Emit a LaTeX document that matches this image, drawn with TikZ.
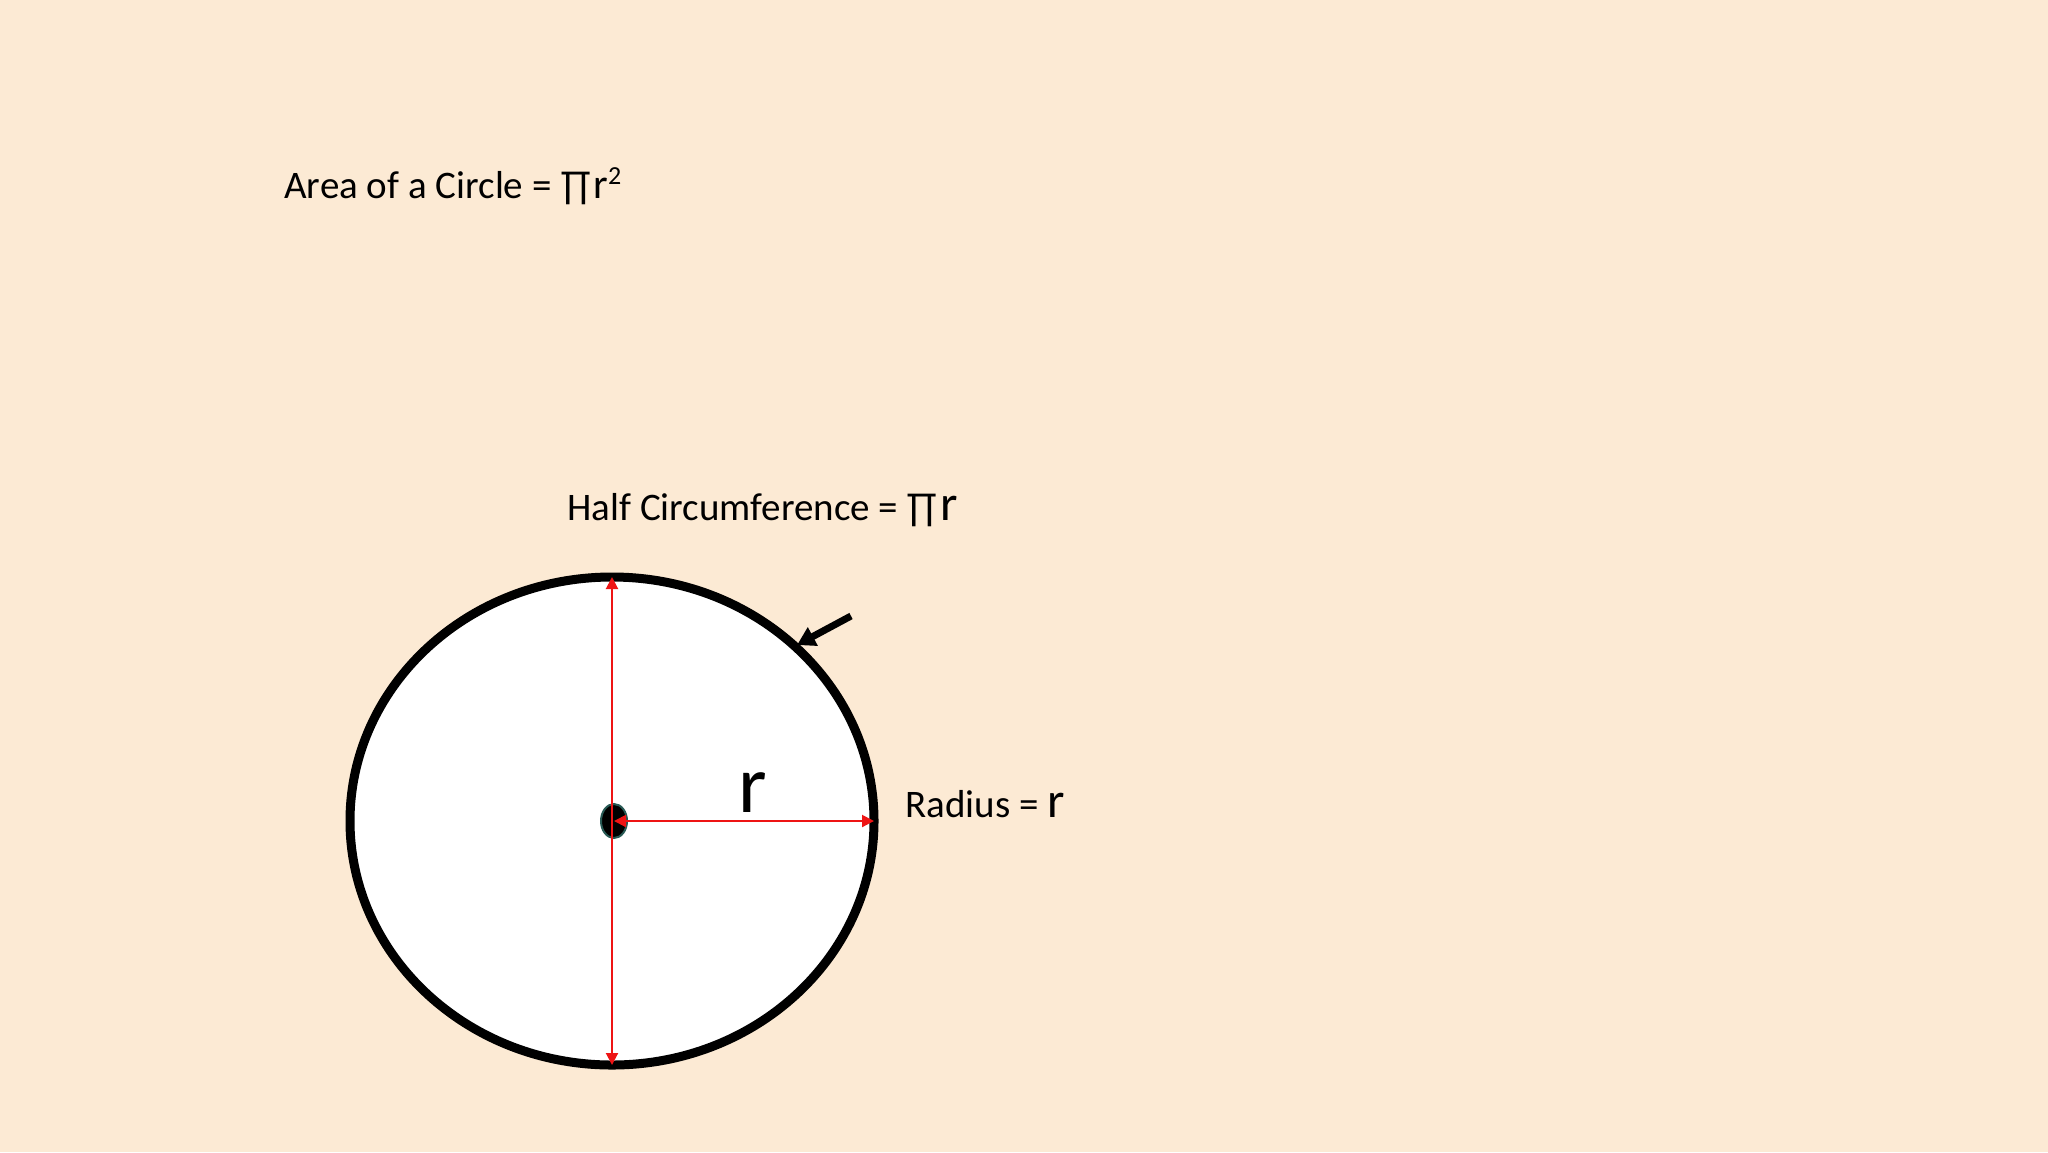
\documentclass[tikz,border=0pt]{standalone}
\usepackage{fontspec}
\setmainfont{Carlito}
\usetikzlibrary{shapes.geometric,arrows.meta}
\definecolor{bg}{RGB}{252,234,212}
\definecolor{redline}{RGB}{238,20,20}
\definecolor{dotedge}{RGB}{40,90,85}
\tikzset{
  lbl/.style={anchor=base west, inner sep=0pt, text=black, font=\fontsize{19.5}{23}\selectfont},
  redarrow/.style={draw=redline, line width=1pt, {Triangle[length=6pt,width=6pt]}-{Triangle[length=6pt,width=6pt]}},
  blackarrow/.style={draw=black, line width=3.5pt, -{Triangle[length=9pt,width=10pt]}},
}
\newcommand{\myrr}[1]{{\fontsize{#1}{#1}\selectfont r}}
\begin{document}
\begin{tikzpicture}[x=0.5pt,y=-0.5pt]
\useasboundingbox[fill=bg] (0,0) rectangle (2048,1152);
% texts
\node[lbl] (area) at (284,198) {Area of a Circle = ∏\kern1pt\myrr{21}\raisebox{7pt}{\fontsize{13}{13}\selectfont 2}};
\node[lbl] (half) at (567,520) {Half Circumference = ∏\kern1pt\myrr{25}};
\node[lbl] (rad) at (905,817) {Radius = \myrr{25}};
% circle
\node[ellipse, draw=black, line width=4.5pt, fill=white, inner sep=0pt, outer sep=0pt,
      minimum width=262pt, minimum height=244pt] (circ) at (612,821) {};
\node[anchor=base west, inner sep=0pt, font=\fontsize{41}{41}\selectfont] (rlbl) at (738,812) {r};
% centre dot
\node[ellipse, draw=dotedge, line width=1pt, fill=black, inner sep=0pt,
      minimum width=13pt, minimum height=17pt] (dot) at (614,821) {};
% red arrows
\draw[redarrow] (circ.north) -- (circ.south);
\draw[redarrow] (dot.center) -- (circ.east);
% black pointer
\coordinate (tail) at (851,616);
\coordinate (tip) at (797,645);
\draw[blackarrow] (tail) -- (tip);
\end{tikzpicture}
\end{document}
